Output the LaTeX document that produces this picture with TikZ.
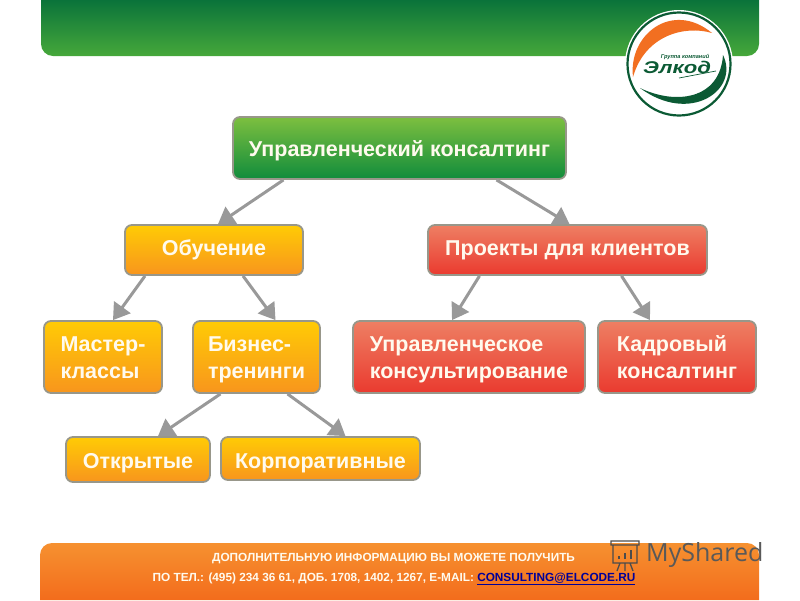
\documentclass[tikz,border=0pt]{standalone}
\usepackage{fontspec}
\setmainfont{Liberation Sans}
\newfontfamily\markfont{Open Sans}
\usetikzlibrary{arrows.meta}
\definecolor{boxline}{HTML}{98978A}
\definecolor{arrowgray}{HTML}{999999}
\definecolor{logogreen}{HTML}{0B5A34}
\definecolor{logoorange}{HTML}{F26F21}
\definecolor{labelwhite}{HTML}{FFFAEE}
\newcommand{\pushdown}[1]{\rule{0pt}{#1}}

\begin{document}
\begin{tikzpicture}[x=1pt, y=-1pt,
    box/.style={rectangle, rounded corners=7pt, draw=boxline, line width=1.8pt,
      text=labelwhite, font=\bfseries\fontsize{21.5}{27}\selectfont, align=left, inner sep=0pt},
    greenbox/.style={box, top color={rgb,255:red,125;green,191;blue,63}, bottom color={rgb,255:red,16;green,140;blue,60}},
    orangebox/.style={box, top color={rgb,255:red,255;green,203;blue,5}, bottom color={rgb,255:red,248;green,149;blue,29}},
    redbox/.style={box, top color={rgb,255:red,238;green,127;blue,99}, bottom color={rgb,255:red,234;green,58;blue,47}},
    link/.style={draw=arrowgray, line width=3pt, -{Triangle[length=16pt, width=20pt]}},
    footer/.style={text=labelwhite, font=\bfseries\fontsize{11.8}{14}\selectfont, inner sep=0pt}
    ]
    \useasboundingbox (0,0) rectangle (800,600);
    % bands
    \shade[top color={rgb,255:red,10;green,115;blue,58}, bottom color={rgb,255:red,70;green,168;blue,58}] (41,0) [rounded corners=12pt] -- (41,56) -- (759,56) [sharp corners] -- (759,0) -- cycle;
    \shade[top color={rgb,255:red,246;green,145;blue,48}, bottom color={rgb,255:red,243;green,108;blue,28}] (40,600) [rounded corners=12pt] -- (40,543) -- (759,543) [sharp corners] -- (759,600) -- cycle;
    % logo
    \fill[white] (679,64) circle (54);
    \draw[logogreen, line width=2.2pt] (679,64) circle (51.5);
    \fill[logoorange] (633,77) .. controls (628,35) and (672,0) .. (712,33) .. controls (685,25) and (645,35) .. (633,77) -- cycle;
    \fill[logogreen] (723,55) .. controls (740,90) and (690,125) .. (640,88) .. controls (675,105) and (720,100) .. (723,55) -- cycle;
    \node[text=logogreen, font=\bfseries\itshape\fontsize{5.6}{6}\selectfont, inner sep=0pt] (group) at (685,57) {Группа компаний};
    \node[text=logogreen, font=\bfseries\itshape\fontsize{17}{18}\selectfont, inner sep=0pt] (elkod) at (677,67) {\scalebox{1.3}[1]{Элкод}};
    \draw[logogreen, line width=0.7pt] (716,71) -- (679,78);
    % boxes
    \node[greenbox, minimum width=333, minimum height=62] (consult) at (399.5,148) {\strut\pushdown{25pt}Управленческий консалтинг};
    \node[orangebox, minimum width=178, minimum height=50] (study) at (214,250) {\strut Обучение};
    \node[redbox, minimum width=279, minimum height=50] (projects) at (567.5,250) {\strut Проекты для клиентов};
    \node[orangebox, minimum width=118, minimum height=72] (master) at (103,357) {\strut\pushdown{25pt}Мастер-\\\strut классы};
    \node[orangebox, minimum width=127, minimum height=72] (business) at (256.5,357) {\strut\pushdown{25pt}Бизнес-\\\strut тренинги};
    \node[redbox, minimum width=232, minimum height=72] (advice) at (469,357) {\strut\pushdown{25pt}Управленческое\\\strut консультирование};
    \node[redbox, minimum width=158, minimum height=72] (staff) at (677,357) {\strut\pushdown{25pt}Кадровый\\\strut консалтинг};
    \node[orangebox, minimum width=144, minimum height=45] (open) at (138,459.5) {\strut\pushdown{27pt}Открытые};
    \node[orangebox, minimum width=199, minimum height=43] (corp) at (320.5,458.5) {\strut\pushdown{29pt}Корпоративные};
    % arrows
    \draw[link] ([xshift=-116pt]consult.south) -- ([xshift=4pt]study.north);
    \draw[link] ([xshift=97pt]consult.south) -- ([xshift=2pt]projects.north);
    \draw[link] ([xshift=-69pt]study.south) -- ([xshift=10pt]master.north);
    \draw[link] ([xshift=29pt]study.south) -- ([xshift=19pt]business.north);
    \draw[link] ([xshift=-36pt]business.south) -- ([xshift=20pt]open.north);
    \draw[link] ([xshift=31pt]business.south) -- ([xshift=25pt]corp.north);
    \draw[link] ([xshift=-88pt]projects.south) -- ([xshift=-17pt]advice.north);
    \draw[link] ([xshift=54pt]projects.south) -- ([xshift=-27pt]staff.north);
    % footer
    \node[footer] (info) at (393.5,559) {ДОПОЛНИТЕЛЬНУЮ ИНФОРМАЦИЮ ВЫ МОЖЕТЕ ПОЛУЧИТЬ};
    \node[footer] (phone) at (394,579) {ПО ТЕЛ.: (495) 234 36 61, ДОБ. 1708, 1402, 1267, E-MAIL: \textcolor{blue!60!black}{\underline{CONSULTING@ELCODE.RU}}};
    % watermark
    \node[text=black!65, font=\markfont\fontsize{25}{28}\selectfont, inner sep=0pt, anchor=west] (shared) at (646,555) {MyShared};
    \draw[black!70, line width=1.3pt] (611,541) rectangle (639,545) (613,545) rectangle (637,563) (620,563) -- (617,571) (625,563) -- (625,571) (630,563) -- (633,571);
    \draw[black!70, line width=2pt] (619,559) -- (619,556) (625,559) -- (625,553) (631,559) -- (631,550);
  \end{tikzpicture}
\end{document}
